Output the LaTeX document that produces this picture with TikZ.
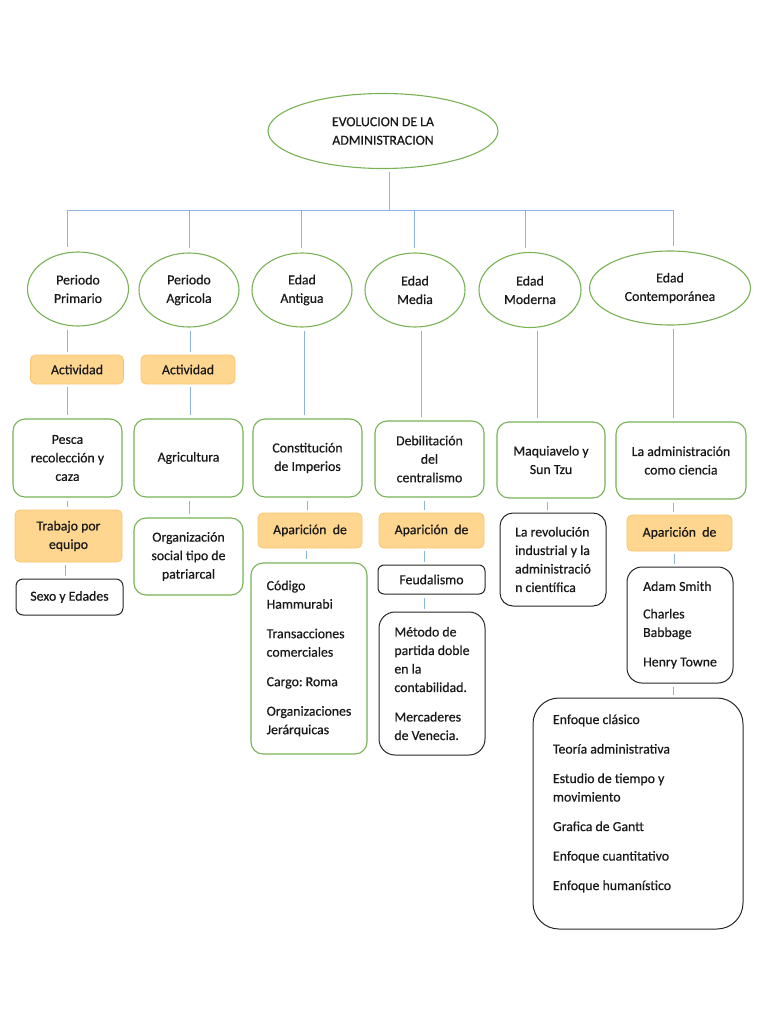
\documentclass[tikz,border=0pt]{standalone}
\usepackage{fontspec}
\setmainfont{Carlito}[FakeBold=0.6]
\usetikzlibrary{shapes.geometric}
\frenchspacing

\definecolor{leaf}{HTML}{77B254}
\definecolor{sand}{HTML}{FFD690}
\definecolor{sandline}{HTML}{F7C46C}
\definecolor{wire}{HTML}{8DB3E0}

\begin{document}
\begin{tikzpicture}[%
        x = 1pt, y = -1pt,
        every node/.style = {%
            font = \fontsize{13.8}{18.5}\selectfont,
            text = black!90,
            align = center,
            inner sep = 0pt
        },
        era/.style = {%
            ellipse,
            draw = leaf,
            line width = 1.1pt
        },
        tag/.style = {%
            rectangle,
            rounded corners = 5pt,
            fill = sand,
            draw = sandline,
            line width = 0.8pt
        },
        gbox/.style = {%
            rectangle,
            rounded corners = 12pt,
            draw = leaf,
            line width = 1.1pt
        },
        kbox/.style = {%
            rectangle,
            rounded corners = 11pt,
            draw = black!85,
            line width = 1pt
        },
        link/.style = {%
            draw = wire,
            line width = 0.9pt,
            shorten < = 3pt,
            shorten > = 3pt
        }
    ]

        % Fix the page size.
        \useasboundingbox (0,0) rectangle (768,1024);

        % The root and the ages.
        \node[era, minimum width = 230, minimum height = 75] (root) at (383,131)
            {EVOLUCION DE LA\\ADMINISTRACION};
        \node[era, minimum width = 101, minimum height = 74] (prim) at (78,289) {Periodo\\Primario};
        \node[era, minimum width = 100, minimum height = 74] (agri) at (189,290) {Periodo\\Agricola};
        \node[era, minimum width = 100, minimum height = 74] (ant) at (302,290) {Edad\\Antigua};
        \node[era, minimum width = 100, minimum height = 74] (med) at (415,290) {Edad\\Media};
        \node[era, minimum width = 102, minimum height = 75] (mod) at (530,290) {Edad\\Moderna};
        \node[era, minimum width = 161, minimum height = 74] (cont) at (670,288) {Edad\\Contemporánea};

        % The bus under the root.
        \coordinate (bus) at (389,210);
        \draw[link, shorten > = 0pt] (root.south -| bus) -- (bus);
        \foreach \n/\x in {prim/67, agri/189, ant/301, med/414, mod/525, cont/673}{%
            \draw[link, shorten < = 0pt, shorten > = 4pt] (bus) -| (\n.north -| \x,0);
        }

        % First column.
        \node[tag, minimum width = 93, minimum height = 29] (act1) at (77,369.5) {Actividad};
        \node[gbox, minimum width = 109, minimum height = 78] (pesca) at (67.5,458) {Pesca\\recolección y\\caza};
        \node[tag, minimum width = 107, minimum height = 52] (trab) at (68.5,536) {Trabajo por\\equipo};
        \node[kbox, rounded corners = 7pt, minimum width = 107, minimum height = 36] (sexo) at (69.5,597) {Sexo y Edades};
        \draw[link] (prim.south -| 67,0) -- (act1.north -| 67,0);
        \draw[link] (act1.south -| 67,0) -- (pesca.north -| 67,0);
        \draw[link] (pesca.south -| 67,0) -- (trab.north -| 67,0);
        \draw[link] (trab.south -| 65,0) -- (sexo.north -| 65,0);

        % Second column.
        \node[tag, minimum width = 94, minimum height = 29] (act2) at (188,369.5) {Actividad};
        \node[gbox, minimum width = 109, minimum height = 78] (agric) at (188.5,458) {Agricultura};
        \node[gbox, minimum width = 109, minimum height = 77] (organ) at (188.5,556.5)
            {Organización\\social tipo de\\patriarcal};
        \draw[link] (agri.south -| 190,0) -- (act2.north -| 190,0);
        \draw[link] (act2.south -| 190,0) -- (agric.north -| 190,0);
        \draw[link] (agric.south -| 189,0) -- (organ.north -| 189,0);

        % Third column.
        \node[gbox, minimum width = 109, minimum height = 78] (const) at (307.5,458) {Constitución\\de Imperios};
        \node[tag, minimum width = 104, minimum height = 35] (apar1) at (310,530.5) {Aparición~~de};
        \node[gbox, minimum width = 116, minimum height = 191, align = left] (codigo) at (309,658.5)
            {Código\\Hammurabi\\[11pt]Transacciones\\comerciales\\[11pt]Cargo: Roma\\[11pt]Organizaciones\\Jerárquicas};
        \draw[link] (ant.south -| 304,0) -- (const.north -| 304,0);
        \draw[link] (const.south -| 307,0) -- (apar1.north -| 307,0);
        \draw[link] (apar1.south -| 306,0) -- (codigo.north -| 306,0);

        % Fourth column.
        \node[gbox, minimum width = 109, minimum height = 76] (debil) at (429.5,459) {Debilitación\\del\\centralismo};
        \node[tag, minimum width = 105, minimum height = 35] (apar2) at (431.5,530.5) {Aparición~~de};
        \node[kbox, rounded corners = 6pt, minimum width = 107, minimum height = 29] (feud) at (431.5,579.5) {Feudalismo};
        \node[kbox, rounded corners = 16pt, minimum width = 106, minimum height = 143, align = left] (metodo) at (432,683.5)
            {Método de\\partida doble\\en la\\contabilidad.\\[11pt]Mercaderes\\de Venecia.};
        \draw[link] (med.south -| 421,0) -- (debil.north -| 421,0);
        \draw[link] (debil.south -| 424,0) -- (apar2.north -| 424,0);
        \draw[link] (apar2.south -| 424,0) -- (feud.north -| 424,0);
        \draw[link] (feud.south -| 424,0) -- (metodo.north -| 424,0);

        % Fifth column.
        \node[gbox, minimum width = 108, minimum height = 76] (maqui) at (551,460) {Maquiavelo y\\Sun Tzu};
        \node[kbox, rounded corners = 13pt, minimum width = 106, minimum height = 93, align = left] (revol) at (553,559.5)
            {La revolución\\industrial y la\\administració\\n científica};
        \draw[link] (mod.south -| 537,0) -- (maqui.north -| 537,0);
        \draw[link] (maqui.south -| 547,0) -- (revol.north -| 547,0);

        % Sixth column.
        \node[gbox, minimum width = 130, minimum height = 77] (admin) at (681,460.5) {La administración\\como ciencia};
        \node[tag, minimum width = 105, minimum height = 36] (apar3) at (679.5,533) {Aparición~~de};
        \node[kbox, rounded corners = 15pt, minimum width = 106, minimum height = 116, align = left] (adam) at (680,625)
            {Adam Smith\\[9pt]Charles\\Babbage\\[11pt]Henry Towne};
        \node[kbox, rounded corners = 26pt, minimum width = 210, minimum height = 231, text width = 170, align = flush left] (enfoque) at (638,813.5)
            {Enfoque clásico\\[11pt]Teoría administrativa\\[11pt]Estudio de tiempo y\\movimiento\\[11pt]Grafica de Gantt\\[11pt]Enfoque cuantitativo\\[11pt]Enfoque humanístico\\[4pt]\mbox{}};
        \draw[link] (cont.south -| 673,0) -- (admin.north -| 673,0);
        \draw[link] (admin.south -| 673,0) -- (apar3.north -| 673,0);
        \draw[link] (apar3.south -| 674,0) -- (adam.north -| 674,0);
        \draw[link] (adam.south -| 673,0) -- (enfoque.north -| 673,0);
    \end{tikzpicture}
\end{document}
